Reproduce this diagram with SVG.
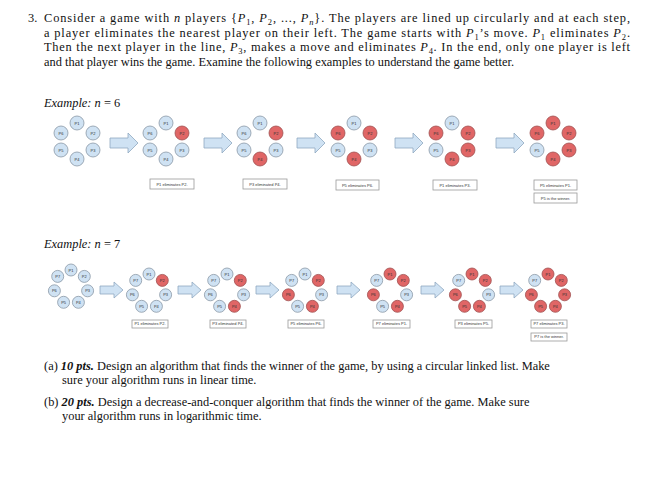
<svg xmlns="http://www.w3.org/2000/svg" width="667" height="477" viewBox="0 0 667 477">
<style>
.t{font-family:"Liberation Serif",serif;font-size:12.4px;fill:#111}
.s{font-size:8.5px}
.b{fill:#cfe2f3;stroke:#8a98a6;stroke-width:0.8}
.r{fill:#e06666;stroke:#a05050;stroke-width:0.8}
.n{font-family:"Liberation Sans",sans-serif;font-size:4px;text-anchor:middle;fill:#333}
.box{fill:#fff;stroke:#999;stroke-width:0.8}
.lb{font-family:"Liberation Sans",sans-serif;font-size:4px;text-anchor:middle;fill:#333}
.ar{fill:#cfe2f3;stroke:#8fa8c0;stroke-width:0.8}
</style>
<defs>
<path id="A6" class="ar" d="M0,-5 H18 V-10 L28,0 L18,10 V5 H0 Z"/>
<path id="A7" class="ar" d="M0,-4 H14 V-8 L23,0 L14,8 V4 H0 Z"/>
</defs>
<rect width="667" height="477" fill="#fff"/>
<g id="text">
<text class="t" x="28" y="22">3.</text>
<text class="t" x="44" y="22" textLength="586" lengthAdjust="spacing">Consider a game with <tspan font-style="italic">n</tspan> players {<tspan font-style="italic">P</tspan><tspan class="s" dy="3">1</tspan><tspan dy="-3">, </tspan><tspan font-style="italic">P</tspan><tspan class="s" dy="3">2</tspan><tspan dy="-3">, ..., </tspan><tspan font-style="italic">P</tspan><tspan class="s" dy="3" font-style="italic">n</tspan><tspan dy="-3">}. The players are lined up circularly and at each step,</tspan></text>
<text class="t" x="44" y="37" textLength="586" lengthAdjust="spacing">a player eliminates the nearest player on their left. The game starts with <tspan font-style="italic">P</tspan><tspan class="s" dy="3">1</tspan><tspan dy="-3">’s move. </tspan><tspan font-style="italic">P</tspan><tspan class="s" dy="3">1</tspan><tspan dy="-3"> eliminates </tspan><tspan font-style="italic">P</tspan><tspan class="s" dy="3">2</tspan><tspan dy="-3">.</tspan></text>
<text class="t" x="44" y="51" textLength="586" lengthAdjust="spacing">Then the next player in the line, <tspan font-style="italic">P</tspan><tspan class="s" dy="3">3</tspan><tspan dy="-3">, makes a move and eliminates </tspan><tspan font-style="italic">P</tspan><tspan class="s" dy="3">4</tspan><tspan dy="-3">. In the end, only one player is left</tspan></text>
<text class="t" x="44" y="66">and that player wins the game. Examine the following examples to understand the game better.</text>
<text class="t" x="44" y="107" font-style="italic">Example: n <tspan font-style="normal">= 6</tspan></text>
<text class="t" x="44" y="248" font-style="italic">Example: n <tspan font-style="normal">= 7</tspan></text>
<text class="t" x="44" y="370">(a) <tspan font-weight="bold" font-style="italic">10 pts.</tspan> Design an algorithm that finds the winner of the game, by using a circular linked list. Make</text>
<text class="t" x="62" y="384">sure your algorithm runs in linear time.</text>
<text class="t" x="44" y="406">(b) <tspan font-weight="bold" font-style="italic">20 pts.</tspan> Design a decrease-and-conquer algorithm that finds the winner of the game. Make sure</text>
<text class="t" x="62" y="420">your algorithm runs in logarithmic time.</text>
</g>
<g id="connectors">
<use href="#A6" x="110" y="143"/><use href="#A6" x="204" y="143"/><use href="#A6" x="297" y="143"/><use href="#A6" x="395" y="143"/><use href="#A6" x="496" y="143"/>
<use href="#A7" x="100" y="290"/><use href="#A7" x="178" y="290"/><use href="#A7" x="256" y="290"/><use href="#A7" x="337" y="290"/><use href="#A7" x="421" y="290"/><use href="#A7" x="500" y="290"/>
</g>
<g id="ex6">
<g transform="translate(77,141)">
<g id="a1p1"><circle class="b" cx="0" cy="-18" r="7"/><text class="n" x="0" y="-16.5">P1</text></g>
<g id="a1p2"><circle class="b" cx="16" cy="-8" r="7"/><text class="n" x="16" y="-6.5">P2</text></g>
<g id="a1p3"><circle class="b" cx="16" cy="9" r="7"/><text class="n" x="16" y="10.5">P3</text></g>
<g id="a1p4"><circle class="b" cx="0" cy="18" r="7"/><text class="n" x="0" y="19.5">P4</text></g>
<g id="a1p5"><circle class="b" cx="-16" cy="9" r="7"/><text class="n" x="-16" y="10.5">P5</text></g>
<g id="a1p6"><circle class="b" cx="-16" cy="-8" r="7"/><text class="n" x="-16" y="-6.5">P6</text></g>
</g>
<g transform="translate(166,141)">
<g id="a2p1"><circle class="b" cx="0" cy="-18" r="7"/><text class="n" x="0" y="-16.5">P1</text></g>
<g id="a2p2"><circle class="r" cx="16" cy="-8" r="7"/><text class="n" x="16" y="-6.5">P2</text></g>
<g id="a2p3"><circle class="b" cx="16" cy="9" r="7"/><text class="n" x="16" y="10.5">P3</text></g>
<g id="a2p4"><circle class="b" cx="0" cy="18" r="7"/><text class="n" x="0" y="19.5">P4</text></g>
<g id="a2p5"><circle class="b" cx="-16" cy="9" r="7"/><text class="n" x="-16" y="10.5">P5</text></g>
<g id="a2p6"><circle class="b" cx="-16" cy="-8" r="7"/><text class="n" x="-16" y="-6.5">P6</text></g>
</g>
<g transform="translate(260,141)">
<g id="a3p1"><circle class="b" cx="0" cy="-18" r="7"/><text class="n" x="0" y="-16.5">P1</text></g>
<g id="a3p2"><circle class="r" cx="16" cy="-8" r="7"/><text class="n" x="16" y="-6.5">P2</text></g>
<g id="a3p3"><circle class="b" cx="16" cy="9" r="7"/><text class="n" x="16" y="10.5">P3</text></g>
<g id="a3p4"><circle class="r" cx="0" cy="18" r="7"/><text class="n" x="0" y="19.5">P4</text></g>
<g id="a3p5"><circle class="b" cx="-16" cy="9" r="7"/><text class="n" x="-16" y="10.5">P5</text></g>
<g id="a3p6"><circle class="b" cx="-16" cy="-8" r="7"/><text class="n" x="-16" y="-6.5">P6</text></g>
</g>
<g transform="translate(354,141)">
<g id="a4p1"><circle class="b" cx="0" cy="-18" r="7"/><text class="n" x="0" y="-16.5">P1</text></g>
<g id="a4p2"><circle class="r" cx="16" cy="-8" r="7"/><text class="n" x="16" y="-6.5">P2</text></g>
<g id="a4p3"><circle class="b" cx="16" cy="9" r="7"/><text class="n" x="16" y="10.5">P3</text></g>
<g id="a4p4"><circle class="r" cx="0" cy="18" r="7"/><text class="n" x="0" y="19.5">P4</text></g>
<g id="a4p5"><circle class="b" cx="-16" cy="9" r="7"/><text class="n" x="-16" y="10.5">P5</text></g>
<g id="a4p6"><circle class="r" cx="-16" cy="-8" r="7"/><text class="n" x="-16" y="-6.5">P6</text></g>
</g>
<g transform="translate(452,141)">
<g id="a5p1"><circle class="b" cx="0" cy="-18" r="7"/><text class="n" x="0" y="-16.5">P1</text></g>
<g id="a5p2"><circle class="r" cx="16" cy="-8" r="7"/><text class="n" x="16" y="-6.5">P2</text></g>
<g id="a5p3"><circle class="r" cx="16" cy="9" r="7"/><text class="n" x="16" y="10.5">P3</text></g>
<g id="a5p4"><circle class="r" cx="0" cy="18" r="7"/><text class="n" x="0" y="19.5">P4</text></g>
<g id="a5p5"><circle class="b" cx="-16" cy="9" r="7"/><text class="n" x="-16" y="10.5">P5</text></g>
<g id="a5p6"><circle class="r" cx="-16" cy="-8" r="7"/><text class="n" x="-16" y="-6.5">P6</text></g>
</g>
<g transform="translate(553,141)">
<g id="a6p1"><circle class="r" cx="0" cy="-18" r="7"/><text class="n" x="0" y="-16.5">P1</text></g>
<g id="a6p2"><circle class="r" cx="16" cy="-8" r="7"/><text class="n" x="16" y="-6.5">P2</text></g>
<g id="a6p3"><circle class="r" cx="16" cy="9" r="7"/><text class="n" x="16" y="10.5">P3</text></g>
<g id="a6p4"><circle class="r" cx="0" cy="18" r="7"/><text class="n" x="0" y="19.5">P4</text></g>
<g id="a6p5"><circle class="b" cx="-16" cy="9" r="7"/><text class="n" x="-16" y="10.5">P5</text></g>
<g id="a6p6"><circle class="r" cx="-16" cy="-8" r="7"/><text class="n" x="-16" y="-6.5">P6</text></g>
</g>
<g id="l6">
<rect class="box" x="150" y="179" width="44" height="10"/><text class="lb" x="172" y="185.5">P1 eliminates P2.</text>
<rect class="box" x="243" y="179" width="44" height="10"/><text class="lb" x="265" y="185.5">P3 eliminated P4.</text>
<rect class="box" x="336" y="180" width="43" height="10"/><text class="lb" x="357.5" y="186.5">P5 eliminates P6.</text>
<rect class="box" x="433" y="180" width="44" height="10"/><text class="lb" x="455" y="186.5">P1 eliminates P3.</text>
<rect class="box" x="534" y="180" width="43" height="10"/><text class="lb" x="555.5" y="186.5">P5 eliminates P1.</text>
<rect class="box" x="534" y="193" width="43" height="10"/><text class="lb" x="555.5" y="199.5">P5 is the winner.</text>
</g>
</g>
<g id="ex7">
<g transform="translate(71,287)">
<g id="b1p1"><circle class="b" cx="0" cy="-17" r="6"/><text class="n" x="0" y="-15.5">P1</text></g>
<g id="b1p2"><circle class="b" cx="13.3" cy="-10.6" r="6"/><text class="n" x="13.3" y="-9.1">P2</text></g>
<g id="b1p3"><circle class="b" cx="16.6" cy="3.8" r="6"/><text class="n" x="16.6" y="5.3">P3</text></g>
<g id="b1p4"><circle class="b" cx="7.4" cy="15.3" r="6"/><text class="n" x="7.4" y="16.8">P4</text></g>
<g id="b1p5"><circle class="b" cx="-7.4" cy="15.3" r="6"/><text class="n" x="-7.4" y="16.8">P5</text></g>
<g id="b1p6"><circle class="b" cx="-16.6" cy="3.8" r="6"/><text class="n" x="-16.6" y="5.3">P6</text></g>
<g id="b1p7"><circle class="b" cx="-13.3" cy="-10.6" r="6"/><text class="n" x="-13.3" y="-9.1">P7</text></g>
</g>
<g transform="translate(149,291)">
<g id="b2p1"><circle class="b" cx="0" cy="-17" r="6"/><text class="n" x="0" y="-15.5">P1</text></g>
<g id="b2p2"><circle class="r" cx="13.3" cy="-10.6" r="6"/><text class="n" x="13.3" y="-9.1">P2</text></g>
<g id="b2p3"><circle class="b" cx="16.6" cy="3.8" r="6"/><text class="n" x="16.6" y="5.3">P3</text></g>
<g id="b2p4"><circle class="b" cx="7.4" cy="15.3" r="6"/><text class="n" x="7.4" y="16.8">P4</text></g>
<g id="b2p5"><circle class="b" cx="-7.4" cy="15.3" r="6"/><text class="n" x="-7.4" y="16.8">P5</text></g>
<g id="b2p6"><circle class="b" cx="-16.6" cy="3.8" r="6"/><text class="n" x="-16.6" y="5.3">P6</text></g>
<g id="b2p7"><circle class="b" cx="-13.3" cy="-10.6" r="6"/><text class="n" x="-13.3" y="-9.1">P7</text></g>
</g>
<g transform="translate(227,291)">
<g id="b3p1"><circle class="b" cx="0" cy="-17" r="6"/><text class="n" x="0" y="-15.5">P1</text></g>
<g id="b3p2"><circle class="r" cx="13.3" cy="-10.6" r="6"/><text class="n" x="13.3" y="-9.1">P2</text></g>
<g id="b3p3"><circle class="b" cx="16.6" cy="3.8" r="6"/><text class="n" x="16.6" y="5.3">P3</text></g>
<g id="b3p4"><circle class="r" cx="7.4" cy="15.3" r="6"/><text class="n" x="7.4" y="16.8">P4</text></g>
<g id="b3p5"><circle class="b" cx="-7.4" cy="15.3" r="6"/><text class="n" x="-7.4" y="16.8">P5</text></g>
<g id="b3p6"><circle class="b" cx="-16.6" cy="3.8" r="6"/><text class="n" x="-16.6" y="5.3">P6</text></g>
<g id="b3p7"><circle class="b" cx="-13.3" cy="-10.6" r="6"/><text class="n" x="-13.3" y="-9.1">P7</text></g>
</g>
<g transform="translate(305,291)">
<g id="b4p1"><circle class="b" cx="0" cy="-17" r="6"/><text class="n" x="0" y="-15.5">P1</text></g>
<g id="b4p2"><circle class="r" cx="13.3" cy="-10.6" r="6"/><text class="n" x="13.3" y="-9.1">P2</text></g>
<g id="b4p3"><circle class="b" cx="16.6" cy="3.8" r="6"/><text class="n" x="16.6" y="5.3">P3</text></g>
<g id="b4p4"><circle class="r" cx="7.4" cy="15.3" r="6"/><text class="n" x="7.4" y="16.8">P4</text></g>
<g id="b4p5"><circle class="b" cx="-7.4" cy="15.3" r="6"/><text class="n" x="-7.4" y="16.8">P5</text></g>
<g id="b4p6"><circle class="r" cx="-16.6" cy="3.8" r="6"/><text class="n" x="-16.6" y="5.3">P6</text></g>
<g id="b4p7"><circle class="b" cx="-13.3" cy="-10.6" r="6"/><text class="n" x="-13.3" y="-9.1">P7</text></g>
</g>
<g transform="translate(390,291)">
<g id="b5p1"><circle class="r" cx="0" cy="-17" r="6"/><text class="n" x="0" y="-15.5">P1</text></g>
<g id="b5p2"><circle class="r" cx="13.3" cy="-10.6" r="6"/><text class="n" x="13.3" y="-9.1">P2</text></g>
<g id="b5p3"><circle class="b" cx="16.6" cy="3.8" r="6"/><text class="n" x="16.6" y="5.3">P3</text></g>
<g id="b5p4"><circle class="r" cx="7.4" cy="15.3" r="6"/><text class="n" x="7.4" y="16.8">P4</text></g>
<g id="b5p5"><circle class="b" cx="-7.4" cy="15.3" r="6"/><text class="n" x="-7.4" y="16.8">P5</text></g>
<g id="b5p6"><circle class="r" cx="-16.6" cy="3.8" r="6"/><text class="n" x="-16.6" y="5.3">P6</text></g>
<g id="b5p7"><circle class="b" cx="-13.3" cy="-10.6" r="6"/><text class="n" x="-13.3" y="-9.1">P7</text></g>
</g>
<g transform="translate(472,291)">
<g id="b6p1"><circle class="r" cx="0" cy="-17" r="6"/><text class="n" x="0" y="-15.5">P1</text></g>
<g id="b6p2"><circle class="r" cx="13.3" cy="-10.6" r="6"/><text class="n" x="13.3" y="-9.1">P2</text></g>
<g id="b6p3"><circle class="b" cx="16.6" cy="3.8" r="6"/><text class="n" x="16.6" y="5.3">P3</text></g>
<g id="b6p4"><circle class="r" cx="7.4" cy="15.3" r="6"/><text class="n" x="7.4" y="16.8">P4</text></g>
<g id="b6p5"><circle class="r" cx="-7.4" cy="15.3" r="6"/><text class="n" x="-7.4" y="16.8">P5</text></g>
<g id="b6p6"><circle class="r" cx="-16.6" cy="3.8" r="6"/><text class="n" x="-16.6" y="5.3">P6</text></g>
<g id="b6p7"><circle class="b" cx="-13.3" cy="-10.6" r="6"/><text class="n" x="-13.3" y="-9.1">P7</text></g>
</g>
<g transform="translate(548,291)">
<g id="b7p1"><circle class="r" cx="0" cy="-17" r="6"/><text class="n" x="0" y="-15.5">P1</text></g>
<g id="b7p2"><circle class="r" cx="13.3" cy="-10.6" r="6"/><text class="n" x="13.3" y="-9.1">P2</text></g>
<g id="b7p3"><circle class="r" cx="16.6" cy="3.8" r="6"/><text class="n" x="16.6" y="5.3">P3</text></g>
<g id="b7p4"><circle class="r" cx="7.4" cy="15.3" r="6"/><text class="n" x="7.4" y="16.8">P4</text></g>
<g id="b7p5"><circle class="r" cx="-7.4" cy="15.3" r="6"/><text class="n" x="-7.4" y="16.8">P5</text></g>
<g id="b7p6"><circle class="r" cx="-16.6" cy="3.8" r="6"/><text class="n" x="-16.6" y="5.3">P6</text></g>
<g id="b7p7"><circle class="b" cx="-13.3" cy="-10.6" r="6"/><text class="n" x="-13.3" y="-9.1">P7</text></g>
</g>
<g id="l7">
<rect class="box" x="132" y="320" width="36" height="8"/><text class="lb" x="150" y="325.3" font-size="3.5">P1 eliminates P2.</text>
<rect class="box" x="210" y="320" width="36" height="8"/><text class="lb" x="228" y="325.3" font-size="3.5">P3 eliminated P4.</text>
<rect class="box" x="288" y="320" width="36" height="8"/><text class="lb" x="306" y="325.3" font-size="3.5">P5 eliminates P6.</text>
<rect class="box" x="373" y="320" width="37" height="8"/><text class="lb" x="391.5" y="325.3" font-size="3.5">P7 eliminates P1.</text>
<rect class="box" x="455" y="320" width="37" height="8"/><text class="lb" x="473.5" y="325.3" font-size="3.5">P3 eliminates P5.</text>
<rect class="box" x="531" y="320" width="36" height="8"/><text class="lb" x="549" y="325.3" font-size="3.5">P7 eliminates P3.</text>
<rect class="box" x="531" y="333" width="36" height="8"/><text class="lb" x="549" y="338.3" font-size="3.5">P7 is the winner.</text>
</g>
</g>
</svg>
